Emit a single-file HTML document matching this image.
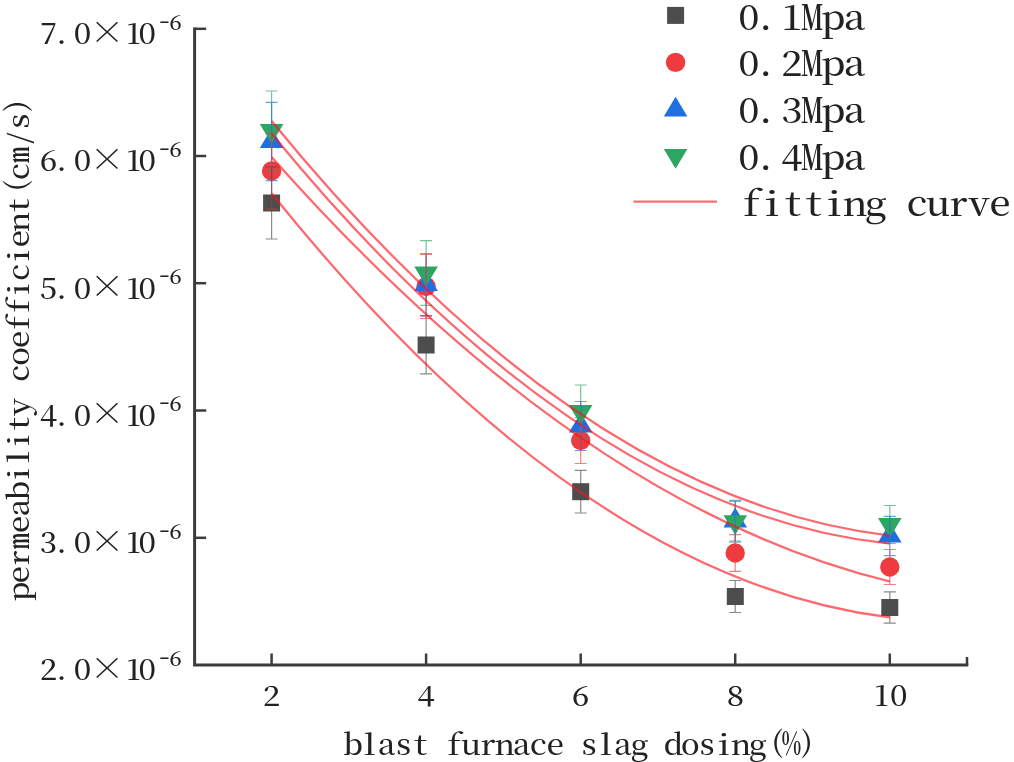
<!DOCTYPE html>
<html lang="en"><head><meta charset="utf-8"><title>permeability coefficient vs blast furnace slag dosing</title>
<style>
html,body{margin:0;padding:0;background:#fff;}
body{width:1014px;height:762px;overflow:hidden;}
svg{display:block;filter:blur(0.4px);}
text{font-weight:500;font-family:"Noto Serif CJK SC","Liberation Serif",serif;fill:#222;text-anchor:middle;font-variant-ligatures:none;font-kerning:none;white-space:pre;}
.t{font-size:28.50px;}
.l{font-size:35.00px;}
.sup{font-size:20.5px;}
.mul{font-size:33px;font-weight:400;}
.par{font-weight:500;}
.pc{font-size:1.14em;font-weight:700;}
.sq{font-weight:700;}
.sm{font-weight:900;}
.st{font-weight:400;}
</style></head><body>
<svg width="1014" height="762" viewBox="0 0 1014 762">
<rect width="1014" height="762" fill="#fff"/>
<g stroke="#3c3c3c" fill="none" stroke-linecap="butt">
<path stroke-width="3" d="M194.6 27.5 V665.0 H968.3"/>
<g stroke-width="2.5">
<path d="M194.6 537.8 h11.6"/>
<path d="M194.6 410.5 h11.6"/>
<path d="M194.6 283.2 h11.6"/>
<path d="M194.6 156.0 h11.6"/>
<path d="M194.6 28.8 h11.6"/>
<path d="M271.6 665.0 v-11.5"/>
<path d="M426.1 665.0 v-11.5"/>
<path d="M580.7 665.0 v-11.5"/>
<path d="M735.2 665.0 v-11.5"/>
<path d="M889.8 665.0 v-11.5"/>
<path d="M967.0 665.0 v-8"/>
</g></g>
<text class="t" transform="scale(1.080,1)" y="680.3" x="45.0 56.9 76.3">2.0<tspan class="mul" dy="-0.4" x="99.1">×</tspan><tspan dy="0.4" x="123.5 136.4">10</tspan><tspan dy="-14.4" x="152.3">-</tspan><tspan class="sup" x="162.6">6</tspan></text>
<text class="t" transform="scale(1.080,1)" y="553.0" x="45.0 56.9 76.3">3.0<tspan class="mul" dy="-0.4" x="99.1">×</tspan><tspan dy="0.4" x="123.5 136.4">10</tspan><tspan dy="-14.4" x="152.3">-</tspan><tspan class="sup" x="162.6">6</tspan></text>
<text class="t" transform="scale(1.080,1)" y="425.8" x="45.0 56.9 76.3">4.0<tspan class="mul" dy="-0.4" x="99.1">×</tspan><tspan dy="0.4" x="123.5 136.4">10</tspan><tspan dy="-14.4" x="152.3">-</tspan><tspan class="sup" x="162.6">6</tspan></text>
<text class="t" transform="scale(1.080,1)" y="298.6" x="45.0 56.9 76.3">5.0<tspan class="mul" dy="-0.4" x="99.1">×</tspan><tspan dy="0.4" x="123.5 136.4">10</tspan><tspan dy="-14.4" x="152.3">-</tspan><tspan class="sup" x="162.6">6</tspan></text>
<text class="t" transform="scale(1.080,1)" y="171.3" x="45.0 56.9 76.3">6.0<tspan class="mul" dy="-0.4" x="99.1">×</tspan><tspan dy="0.4" x="123.5 136.4">10</tspan><tspan dy="-14.4" x="152.3">-</tspan><tspan class="sup" x="162.6">6</tspan></text>
<text class="t" transform="scale(1.080,1)" y="44.0" x="45.0 56.9 76.3">7.0<tspan class="mul" dy="-0.4" x="99.1">×</tspan><tspan dy="0.4" x="123.5 136.4">10</tspan><tspan dy="-14.4" x="152.3">-</tspan><tspan class="sup" x="162.6">6</tspan></text>
<text class="t" transform="scale(1.080,1)" y="706.3" x="251.5">2</text>
<text class="t" transform="scale(1.080,1)" y="706.3" x="394.6">4</text>
<text class="t" transform="scale(1.080,1)" y="706.3" x="537.7">6</text>
<text class="t" transform="scale(1.080,1)" y="706.3" x="680.8">8</text>
<text class="t" transform="scale(1.080,1)" y="706.3" x="816.3 832.2">10</text>
<text class="t" transform="scale(1.080,1)" y="754.6" x="326.8">b<tspan class="st" x="342.4" textLength="11.9" lengthAdjust="spacingAndGlyphs">l</tspan><tspan x="358.0 373.7">as</tspan><tspan class="st" x="389.3" textLength="12.5" lengthAdjust="spacingAndGlyphs">t</tspan><tspan x="404.9"> </tspan><tspan class="st" x="420.5" textLength="12.8" lengthAdjust="spacingAndGlyphs">f</tspan><tspan x="436.1 451.8 467.4 483.0 498.6 514.2 529.9 545.5">urnace s</tspan><tspan class="st" x="561.1" textLength="11.9" lengthAdjust="spacingAndGlyphs">l</tspan><tspan x="576.7 592.3 608.0 623.6 639.2 654.8">ag dos</tspan><tspan class="st" x="670.4" textLength="11.9" lengthAdjust="spacingAndGlyphs">i</tspan><tspan x="686.1 701.7">ng</tspan><tspan class="par" dy="-3.0" x="719.6">(</tspan><tspan class="pc" dy="3.0" x="732.9" textLength="18.4" lengthAdjust="spacingAndGlyphs">%</tspan><tspan class="par" dy="-3.0" x="747.2">)</tspan></text>
<text class="t" transform="rotate(-90) scale(1.080,1)" y="29.2" x="-547.8 -532.2 -516.7">per<tspan class="sm" x="-501.1" textLength="15.6" lengthAdjust="spacingAndGlyphs">m</tspan><tspan x="-485.6 -470.0 -454.4">eab</tspan><tspan class="st" x="-438.9" textLength="11.8" lengthAdjust="spacingAndGlyphs">i</tspan><tspan class="st" x="-423.3" textLength="11.8" lengthAdjust="spacingAndGlyphs">l</tspan><tspan class="st" x="-407.8" textLength="11.8" lengthAdjust="spacingAndGlyphs">i</tspan><tspan class="st" x="-392.2" textLength="12.4" lengthAdjust="spacingAndGlyphs">t</tspan><tspan x="-376.7 -361.1 -345.6 -330.0 -314.4">y coe</tspan><tspan class="st" x="-298.9" textLength="12.8" lengthAdjust="spacingAndGlyphs">f</tspan><tspan class="st" x="-283.3" textLength="12.8" lengthAdjust="spacingAndGlyphs">f</tspan><tspan class="st" x="-267.8" textLength="11.8" lengthAdjust="spacingAndGlyphs">i</tspan><tspan x="-252.2">c</tspan><tspan class="st" x="-236.7" textLength="11.8" lengthAdjust="spacingAndGlyphs">i</tspan><tspan x="-221.1 -205.6">en</tspan><tspan class="st" x="-190.0" textLength="12.4" lengthAdjust="spacingAndGlyphs">t</tspan><tspan class="par" dy="-3.0" x="-172.1">(</tspan><tspan dy="3.0" x="-158.9">c</tspan><tspan class="sm" x="-143.3" textLength="15.6" lengthAdjust="spacingAndGlyphs">m</tspan><tspan x="-127.8 -112.2">/s</tspan><tspan class="par" dy="-3.0" x="-98.1">)</tspan></text>
<rect x="263.1" y="194.5" width="17" height="17" fill="#4d4d4d"/>
<rect x="417.6" y="336.5" width="17" height="17" fill="#4d4d4d"/>
<rect x="572.2" y="483.2" width="17" height="17" fill="#4d4d4d"/>
<rect x="726.8" y="588.0" width="17" height="17" fill="#4d4d4d"/>
<rect x="881.3" y="599.0" width="17" height="17" fill="#4d4d4d"/>
<circle cx="271.6" cy="171.0" r="9.7" fill="#ee3b40"/>
<circle cx="426.1" cy="286.5" r="9.7" fill="#ee3b40"/>
<circle cx="580.7" cy="440.5" r="9.7" fill="#ee3b40"/>
<circle cx="735.2" cy="553.0" r="9.7" fill="#ee3b40"/>
<circle cx="889.8" cy="567.0" r="9.7" fill="#ee3b40"/>
<path d="M271.6 128.3 L283.4 148.1 L259.8 148.1 Z" fill="#1e6fe2"/>
<path d="M426.1 271.3 L437.9 291.1 L414.3 291.1 Z" fill="#1e6fe2"/>
<path d="M580.7 412.8 L592.5 432.6 L568.9 432.6 Z" fill="#1e6fe2"/>
<path d="M735.2 507.6 L747.0 527.4 L723.5 527.4 Z" fill="#1e6fe2"/>
<path d="M889.8 522.8 L901.6 542.6 L878.0 542.6 Z" fill="#1e6fe2"/>
<path d="M271.6 143.7 L283.4 123.9 L259.8 123.9 Z" fill="#2ea562"/>
<path d="M426.1 286.2 L437.9 266.4 L414.3 266.4 Z" fill="#2ea562"/>
<path d="M580.7 424.7 L592.5 404.9 L568.9 404.9 Z" fill="#2ea562"/>
<path d="M735.2 535.0 L747.0 515.2 L723.5 515.2 Z" fill="#2ea562"/>
<path d="M889.8 537.7 L901.6 517.9 L878.0 517.9 Z" fill="#2ea562"/>
<g stroke="#2ea562" stroke-width="1.2" stroke-opacity="0.66" fill="none">
<path d="M271.6 91.0 V170.0 M265.6 91.0 h12 M265.6 170.0 h12"/>
<path d="M426.1 240.7 V305.3 M420.1 240.7 h12 M420.1 305.3 h12"/>
<path d="M580.7 385.0 V438.0 M574.7 385.0 h12 M574.7 438.0 h12"/>
<path d="M735.2 501.5 V542.1 M729.2 501.5 h12 M729.2 542.1 h12"/>
<path d="M889.8 505.5 V543.5 M883.8 505.5 h12 M883.8 543.5 h12"/>
</g>
<g stroke="#1e6fe2" stroke-width="1.2" stroke-opacity="0.66" fill="none">
<path d="M271.6 102.3 V180.7 M265.6 102.3 h12 M265.6 180.7 h12"/>
<path d="M426.1 253.5 V315.5 M420.1 253.5 h12 M420.1 315.5 h12"/>
<path d="M580.7 401.5 V450.5 M574.7 401.5 h12 M574.7 450.5 h12"/>
<path d="M735.2 500.4 V541.0 M729.2 500.4 h12 M729.2 541.0 h12"/>
<path d="M889.8 516.3 V555.7 M883.8 516.3 h12 M883.8 555.7 h12"/>
</g>
<g stroke="#ee3b40" stroke-width="1.2" stroke-opacity="0.66" fill="none">
<path d="M271.6 133.0 V209.0 M265.6 133.0 h12 M265.6 209.0 h12"/>
<path d="M426.1 254.5 V318.5 M420.1 254.5 h12 M420.1 318.5 h12"/>
<path d="M580.7 417.5 V463.5 M574.7 417.5 h12 M574.7 463.5 h12"/>
<path d="M735.2 534.6 V571.4 M729.2 534.6 h12 M729.2 571.4 h12"/>
<path d="M889.8 549.5 V584.5 M883.8 549.5 h12 M883.8 584.5 h12"/>
</g>
<g stroke="#4d4d4d" stroke-width="1.2" stroke-opacity="0.66" fill="none">
<path d="M271.6 167.0 V239.0 M265.6 167.0 h12 M265.6 239.0 h12"/>
<path d="M426.1 316.2 V373.8 M420.1 316.2 h12 M420.1 373.8 h12"/>
<path d="M580.7 470.4 V513.0 M574.7 470.4 h12 M574.7 513.0 h12"/>
<path d="M735.2 580.5 V612.5 M729.2 580.5 h12 M729.2 612.5 h12"/>
<path d="M889.8 591.9 V623.1 M883.8 591.9 h12 M883.8 623.1 h12"/>
</g>
<g stroke="#fa141e" stroke-opacity="0.64" stroke-width="2.25" fill="none" stroke-linecap="butt">
<path d="M271.60 193.22 Q580.70 579.04 889.80 617.42"/>
<path d="M271.60 156.89 Q580.70 506.04 889.80 581.49"/>
<path d="M271.60 133.52 Q580.70 511.29 889.80 543.62"/>
<path d="M271.60 121.00 Q580.70 499.86 889.80 535.52"/>
</g>
<rect x="667.1" y="6.9" width="17" height="17" fill="#4d4d4d"/>
<circle cx="675.6" cy="62.4" r="9.7" fill="#ee3b40"/>
<path d="M675.6 96.8 L687.4 116.6 L663.8 116.6 Z" fill="#1e6fe2"/>
<path d="M675.6 168.8 L687.4 149.0 L663.8 149.0 Z" fill="#2ea562"/>
<path d="M633.5 201.6 H717" stroke="#fa141e" stroke-opacity="0.62" stroke-width="2.2" fill="none"/>
<text class="l" transform="scale(1.080,1)" y="30.0" x="693.5 708.9 733.1">0.1<tspan class="sq" x="752.0" textLength="20.7" lengthAdjust="spacingAndGlyphs">M</tspan><tspan x="771.5 791.4">pa</tspan></text>
<text class="l" transform="scale(1.080,1)" y="76.4" x="693.5 708.9 733.1">0.2<tspan class="sq" x="752.0" textLength="20.7" lengthAdjust="spacingAndGlyphs">M</tspan><tspan x="771.5 791.4">pa</tspan></text>
<text class="l" transform="scale(1.080,1)" y="123.3" x="693.5 708.9 733.1">0.3<tspan class="sq" x="752.0" textLength="20.7" lengthAdjust="spacingAndGlyphs">M</tspan><tspan x="771.5 791.4">pa</tspan></text>
<text class="l" transform="scale(1.080,1)" y="169.6" x="693.5 708.9 733.1">0.4<tspan class="sq" x="752.0" textLength="20.7" lengthAdjust="spacingAndGlyphs">M</tspan><tspan x="771.5 791.4">pa</tspan></text>
<text class="l" transform="scale(1.080,1)" y="216.0"><tspan class="st" x="695.9" textLength="15.7" lengthAdjust="spacingAndGlyphs">f</tspan><tspan class="st" x="715.0" textLength="14.6" lengthAdjust="spacingAndGlyphs">i</tspan><tspan class="st" x="734.2" textLength="15.3" lengthAdjust="spacingAndGlyphs">t</tspan><tspan class="st" x="753.4" textLength="15.3" lengthAdjust="spacingAndGlyphs">t</tspan><tspan class="st" x="772.5" textLength="14.6" lengthAdjust="spacingAndGlyphs">i</tspan><tspan x="791.7 810.9 830.0 849.2 868.4 887.5 906.7 925.9">ng curve</tspan></text>
</svg>
</body></html>
